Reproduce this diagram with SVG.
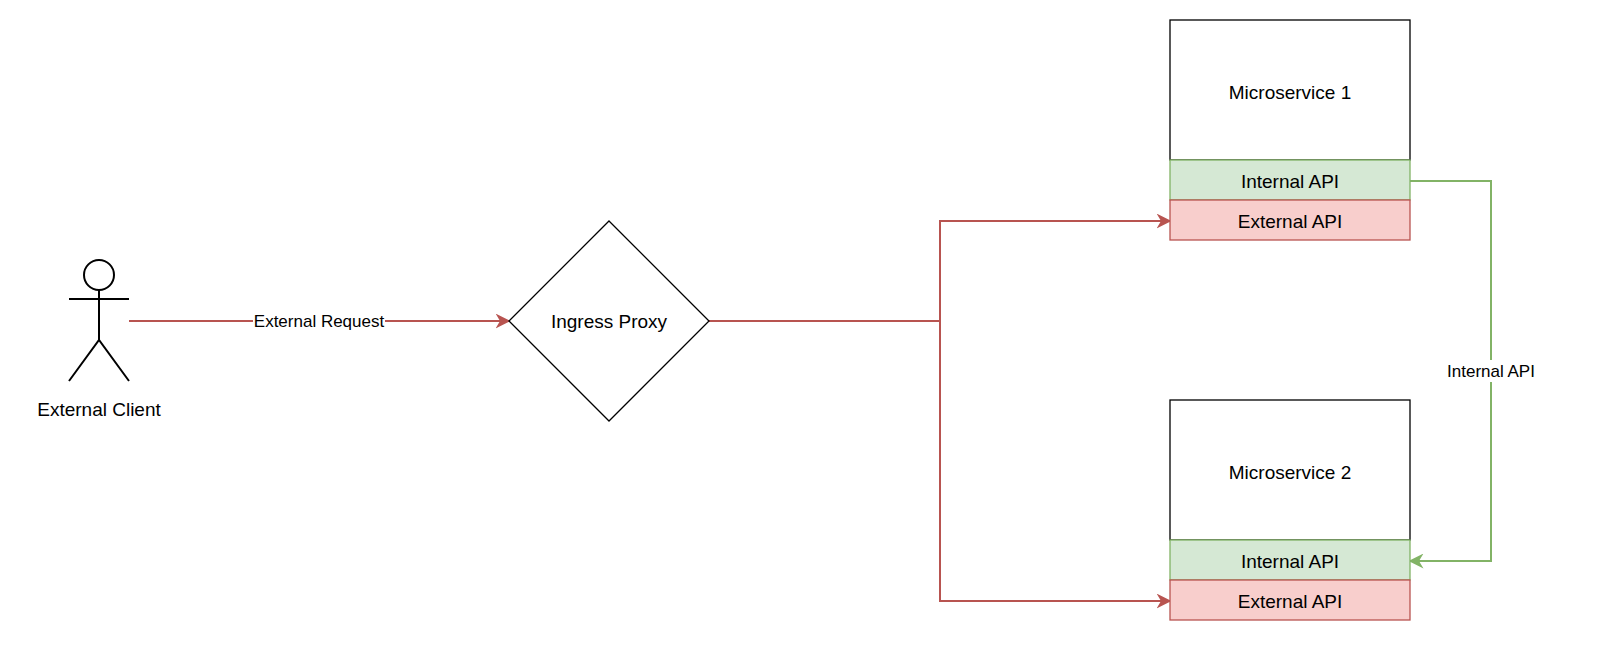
<svg xmlns="http://www.w3.org/2000/svg" width="1600" height="656" viewBox="0 0 1600 656">
<style>
text{font-family:"Liberation Sans",Arial,sans-serif;fill:#000;text-anchor:middle;dominant-baseline:central}
.n{font-size:19px}.l{font-size:17px}
.box{fill:#fff;stroke:#000;stroke-width:1.3}
.g{fill:#d5e8d4;stroke:#82b366;stroke-width:1.3}
.r{fill:#f8cecc;stroke:#b85450;stroke-width:1.3}
.er{fill:none;stroke:#b85450;stroke-width:2}
.eg{fill:none;stroke:#82b366;stroke-width:2}
</style>
<defs>
<marker id="ar" viewBox="0 0 10 10" refX="9" refY="5" markerWidth="15" markerHeight="15" orient="auto" markerUnits="userSpaceOnUse"><path d="M0,0 L10,5 L0,10 L3,5 Z" fill="#b85450"/></marker>
<marker id="ag" viewBox="0 0 10 10" refX="9" refY="5" markerWidth="15" markerHeight="15" orient="auto" markerUnits="userSpaceOnUse"><path d="M0,0 L10,5 L0,10 L3,5 Z" fill="#82b366"/></marker>
</defs>
<rect width="1600" height="656" fill="#fff"/>
<g id="connectors">
<path class="er" d="M129,321 H509" marker-end="url(#ar)"/>
<rect x="253" y="311" width="132" height="20" fill="#fff"/>
<text class="l" x="319" y="321">External Request</text>
<path class="er" d="M709,321 H940 V221 H1170" marker-end="url(#ar)"/>
<path class="er" d="M940,321 V601 H1170" marker-end="url(#ar)"/>
<path class="eg" d="M1410,181 H1491 V561 H1410" marker-end="url(#ag)"/>
<rect x="1442" y="360" width="98" height="22" fill="#fff"/>
<text class="l" x="1491" y="371">Internal API</text>
</g>
<g id="client" fill="none" stroke="#000" stroke-width="2">
<circle cx="99" cy="275" r="15"/>
<path d="M99,290 V340 M69,299 H129 M69,381 L99,340 L129,381"/>
<text class="n" x="99" y="409" stroke="none">External Client</text>
</g>
<g id="proxy">
<path class="box" d="M609,221 L709,321 L609,421 L509,321 Z"/>
<text class="n" x="609" y="321">Ingress Proxy</text>
</g>
<g id="ms1">
<rect class="box" x="1170" y="20" width="240" height="140"/>
<text class="n" x="1290" y="92">Microservice 1</text>
<rect class="g" x="1170" y="160" width="240" height="40"/>
<text class="n" x="1290" y="181">Internal API</text>
<rect class="r" x="1170" y="200" width="240" height="40"/>
<text class="n" x="1290" y="221">External API</text>
</g>
<g id="ms2">
<rect class="box" x="1170" y="400" width="240" height="140"/>
<text class="n" x="1290" y="472">Microservice 2</text>
<rect class="g" x="1170" y="540" width="240" height="40"/>
<text class="n" x="1290" y="561">Internal API</text>
<rect class="r" x="1170" y="580" width="240" height="40"/>
<text class="n" x="1290" y="601">External API</text>
</g>
</svg>
